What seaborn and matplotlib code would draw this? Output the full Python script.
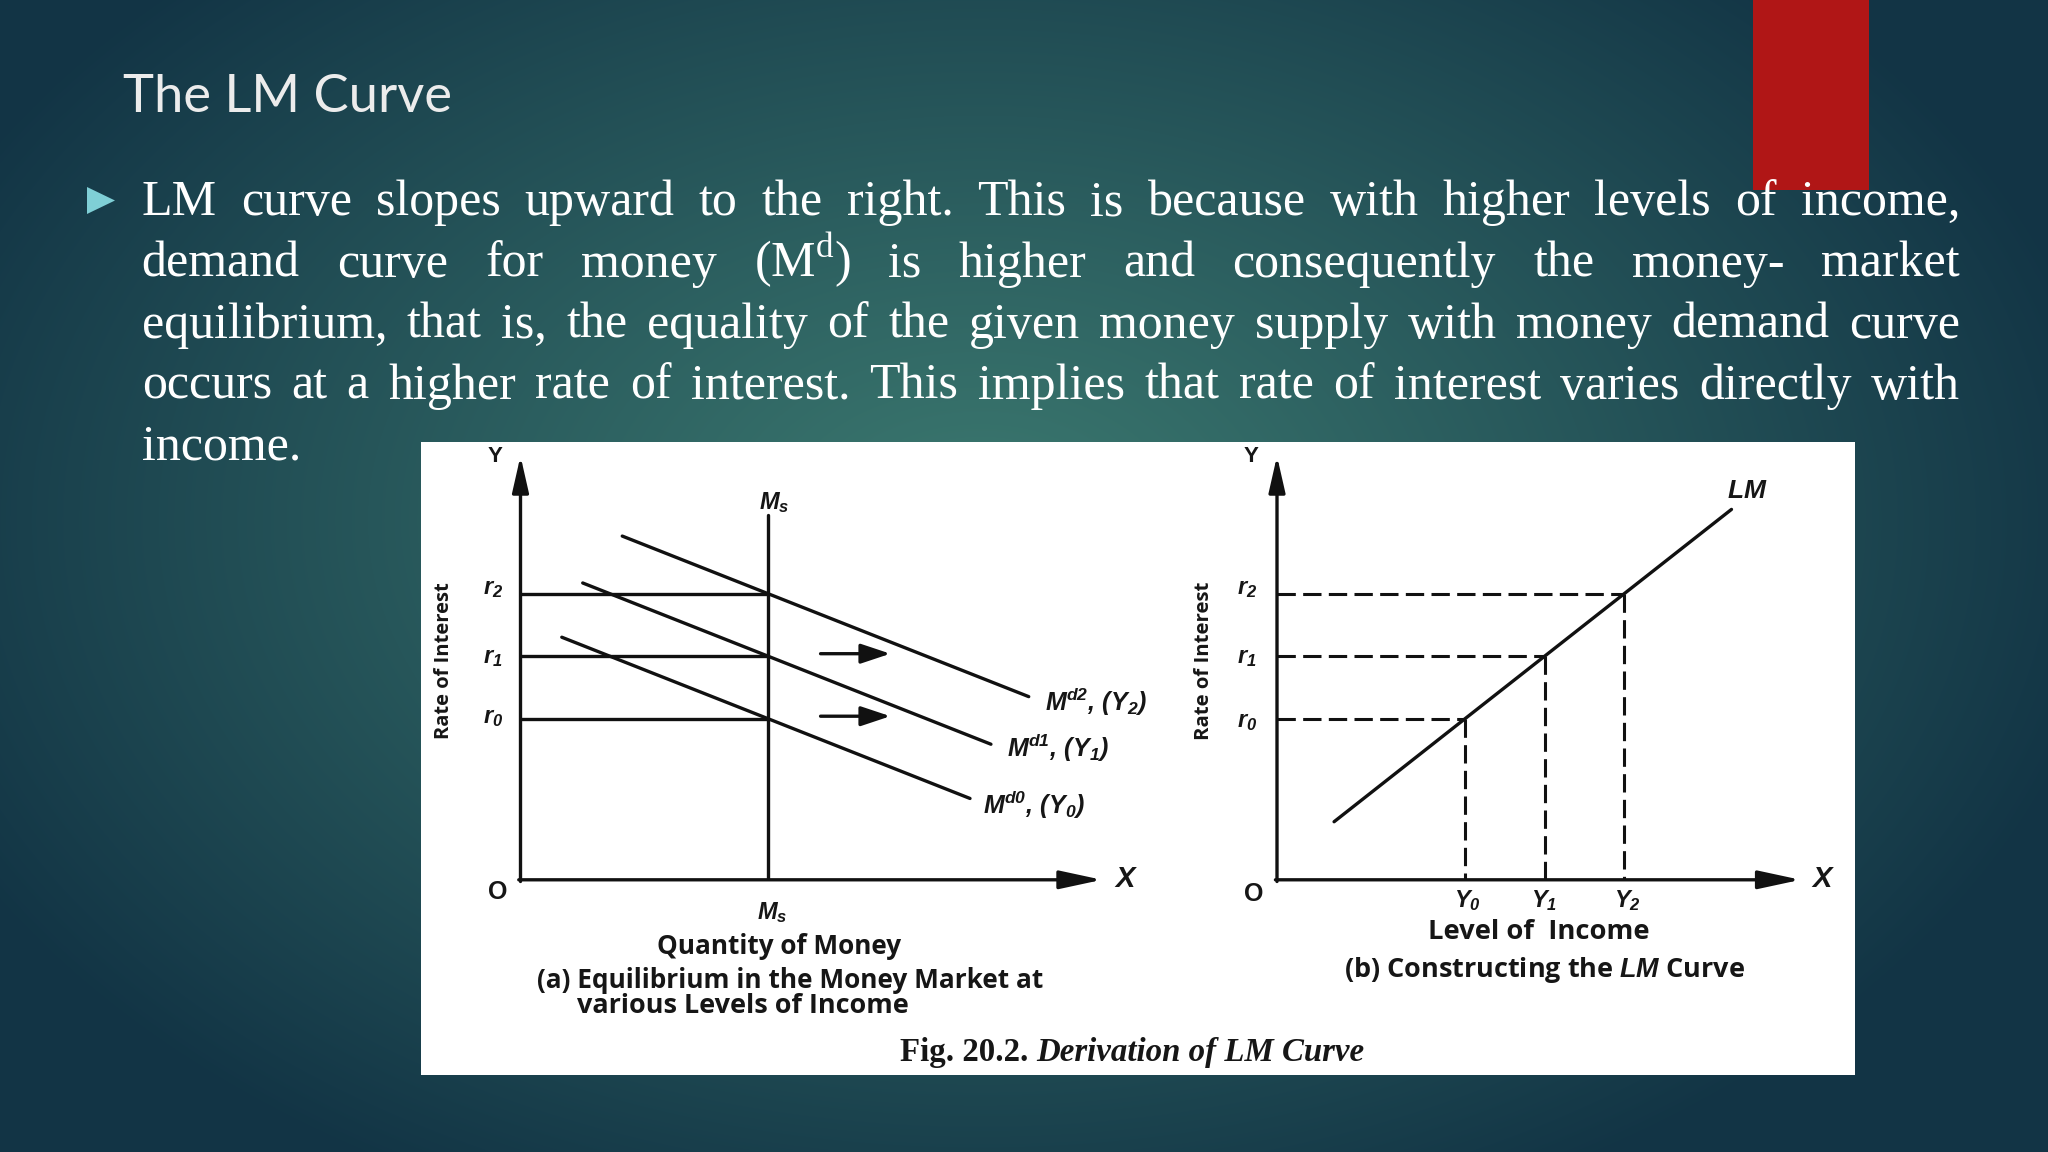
import numpy as np
import pandas as pd
import matplotlib
matplotlib.use("Agg")
import matplotlib.pyplot as plt
from matplotlib.patches import Rectangle, Polygon
import seaborn as sns

# ---------------- data ----------------
title = "The LM Curve"
body_lines = [
    "LM curve slopes upward to the right. This is because with higher levels of income,",
    "demand curve for money (M$^{\\mathrm{d}}$) is higher and consequently the money- market",
    "equilibrium, that is, the equality of the given money supply with money demand curve",
    "occurs at a higher rate of interest. This implies that rate of interest varies directly with",
    "income.",
]
rate_levels = [38.0, 52.75, 67.5]          # r0, r1, r2
rate_labels = ["r_0", "r_1", "r_2"]
money_supply = 42.6                        # Ms
ms_top = 86.0
md_slope = -0.542
md_start = [7.1, 10.7, 17.5]               # Md0, Md1, Md2
md_end = [77.3, 80.9, 87.4]
md_labels = [r"$\mathbf{M^{d0},\,(Y_0)}$", r"$\mathbf{M^{d1},\,(Y_1)}$", r"$\mathbf{M^{d2},\,(Y_2)}$"]
shift_from, shift_to = 51.6, 63.6
income_levels = [35.9, 51.1, 66.3]         # Y0, Y1, Y2
income_labels = ["Y_0", "Y_1", "Y_2"]
lm_income = [10.9, 35.9, 51.1, 66.3, 86.8]
lm_rate = [13.7, 38.0, 52.75, 67.5, 87.4]

# ---------------- setup ----------------
W, H = 2048, 1152
sns.set_theme(style="white")
plt.rcParams["font.family"] = ["Liberation Sans", "DejaVu Sans"]
plt.rcParams["mathtext.fontset"] = "custom"
plt.rcParams["mathtext.rm"] = "Liberation Serif"
plt.rcParams["mathtext.it"] = "Liberation Sans:italic"
plt.rcParams["mathtext.bf"] = "Liberation Sans:italic:bold"

fig = plt.figure(figsize=(W / 100, H / 100), dpi=100)
renderer = fig.canvas.get_renderer()


def fx(x):
    return x / W


def fy(y):
    return 1 - y / H


def T(x, y, s, **kw):
    return fig.text(fx(x), fy(y), s, **kw)


def fit(t, target, vertical=False):
    bb = t.get_window_extent(renderer)
    cur = bb.height if vertical else bb.width
    t.set_fontsize(t.get_fontsize() * target / cur)
    return t


# background gradient
bg = fig.add_axes([0, 0, 1, 1], zorder=0)
yy, xx = np.mgrid[0:H, 0:W]
d = np.sqrt(((xx - 980) / 1150.0) ** 2 + ((yy - 520) / 760.0) ** 2)
d = np.clip(d, 0, 1) ** 1.1
c_center = np.array([0x3b, 0x78, 0x6f]) / 255
c_edge = np.array([0x12, 0x34, 0x45]) / 255
img = c_center[None, None, :] * (1 - d[..., None]) + c_edge[None, None, :] * d[..., None]
bg.imshow(img, extent=[0, W, H, 0], aspect="auto")
bg.set_xlim(0, W)
bg.set_ylim(H, 0)
bg.axis("off")

# red bar
fig.patches.append(Rectangle((fx(1753), fy(190)), (1869 - 1753) / W, 190 / H,
                             transform=fig.transFigure, facecolor="#b01616",
                             edgecolor="none", zorder=1))
# bullet
fig.patches.append(Polygon([(fx(87), fy(187)), (fx(87), fy(214)), (fx(115), fy(200.5))],
                           closed=True, transform=fig.transFigure,
                           facecolor="#7fcfd6", edgecolor="none", zorder=2))

# title
ttl = T(123, 111.7, title, fontsize=44, color="#ececec",
        family=["Liberation Sans Narrow", "Lato", "DejaVu Sans"],
        va="baseline", ha="left", zorder=3)
fit(ttl, 329)

# body justified text
x0, x1 = 141.7, 1960.0
baselines = [215, 276.7, 338, 398.5, 460]
body_fs = 36
body_kw = dict(family=["Liberation Serif", "DejaVu Serif"], color="white", va="baseline",
               ha="left", zorder=3)


def measure(s, fs):
    t = T(0, 0, s, fontsize=fs, **body_kw)
    w = t.get_window_extent(renderer).width
    t.remove()
    return w


for _ in range(3):
    sp = measure("x x", body_fs) - measure("xx", body_fs)
    need = 0
    for ln in body_lines[:-1]:
        words = ln.split(" ")
        need = max(need, sum(measure(w, body_fs) for w in words) + 0.85 * sp * (len(words) - 1))
    if need > (x1 - x0):
        body_fs *= (x1 - x0) / need
    else:
        break

for i, ln in enumerate(body_lines):
    words = ln.split(" ")
    widths = [measure(w, body_fs) for w in words]
    if i < len(body_lines) - 1 and len(words) > 1:
        gap = ((x1 - x0) - sum(widths)) / (len(words) - 1)
    else:
        gap = measure("x x", body_fs) - measure("xx", body_fs)
    x = x0
    for w, wd in zip(words, widths):
        T(x, baselines[i], w, fontsize=body_fs, **body_kw)
        x += wd + gap

# white figure box
box = fig.add_axes([fx(421), fy(1075), (1855 - 421) / W, (1075 - 442) / H], zorder=4)
box.set_facecolor("white")
box.set_xticks([])
box.set_yticks([])
for s in box.spines.values():
    s.set_visible(False)

ink = "#111111"
lab_kw = dict(color="#161616", zorder=10)
cap_kw = dict(family=["Open Sans", "Liberation Sans"], fontweight="bold",
              ha="center", va="center", **lab_kw)

# ---------------- axes ----------------
axA = fig.add_axes([fx(520.5), fy(879.8), (1102 - 520.5) / W, (879.8 - 456) / H], zorder=5)
axB = fig.add_axes([fx(1277), fy(879.8), (1800.6 - 1277) / W, (879.8 - 456) / H], zorder=5)
for ax in (axA, axB):
    ax.set_xlim(0, 100)
    ax.set_ylim(0, 100)
    ax.axis("off")
    ax.patch.set_alpha(0)
    ax.annotate("", xy=(0, 100), xytext=(0, -0.4),
                arrowprops=dict(arrowstyle="-|>,head_length=1.1,head_width=0.25", lw=2.4,
                                color=ink, shrinkA=0, shrinkB=0, mutation_scale=20),
                annotation_clip=False)
    ax.annotate("", xy=(100, 0), xytext=(-0.3, 0),
                arrowprops=dict(arrowstyle="-|>,head_length=1.3,head_width=0.28", lw=2.4,
                                color=ink, shrinkA=0, shrinkB=0, mutation_scale=20),
                annotation_clip=False)

# ---------------- panel (a) ----------------
rows = []
for k, (a, b) in enumerate(zip(md_start, md_end)):
    for m in (a, b):
        rows.append({"curve": f"Md{k}", "money": m,
                     "rate": rate_levels[k] + md_slope * (m - money_supply)})
md_df = pd.DataFrame(rows)
sns.lineplot(data=md_df, x="money", y="rate", units="curve", estimator=None,
             color=ink, lw=2.4, ax=axA, legend=False)
axA.plot([money_supply, money_supply], [0, ms_top], color=ink, lw=2.4)
for r in rate_levels:
    axA.plot([0, money_supply], [r, r], color=ink, lw=2.4)
for r in rate_levels[:2]:
    axA.annotate("", xy=(shift_to, r + 0.6), xytext=(shift_from, r + 0.6),
                 arrowprops=dict(arrowstyle="-|>,head_length=0.9,head_width=0.3", lw=2.4,
                                 color=ink, shrinkA=0, shrinkB=0, mutation_scale=20))
axA.set_xlim(0, 100)
axA.set_ylim(0, 100)

T(495.5, 457, "Y", fontsize=16, fontweight="bold", ha="center", va="center", **lab_kw)
T(1126, 879, r"$\mathbf{X}$", fontsize=21, ha="center", va="center", **lab_kw)
T(498, 892, "O", fontsize=18, fontweight="bold", ha="center", va="center", **lab_kw)
for lbl, yv in zip(rate_labels, [717.5, 658, 589]):
    T(493, yv, f"$\\mathbf{{{lbl}}}$", fontsize=17, ha="center", va="center", **lab_kw)
T(774, 503, r"$\mathbf{M_s}$", fontsize=17, ha="center", va="center", **lab_kw)
T(772, 913, r"$\mathbf{M_s}$", fontsize=17, ha="center", va="center", **lab_kw)
fit(T(444, 661, "Rate of Interest", fontsize=15, rotation=90, **cap_kw), 157, vertical=True)
for lbl, (xv, yv) in zip(md_labels, [(983, 805), (1007, 748), (1045, 702)]):
    T(xv, yv, lbl, fontsize=18, ha="left", va="center", **lab_kw)
fit(T(779, 946, "Quantity of Money", fontsize=18, **cap_kw), 244)
fit(T(790, 981, "(a) Equilibrium in the Money Market at", fontsize=18, **cap_kw), 509)
fit(T(743, 1006, "various Levels of Income", fontsize=18, **cap_kw), 333)

# ---------------- panel (b) ----------------
lm_df = pd.DataFrame({"income": lm_income, "rate": lm_rate})
sns.lineplot(data=lm_df, x="income", y="rate", color=ink, lw=2.4, ax=axB,
             estimator=None, sort=False)
for yv, r in zip(income_levels, rate_levels):
    axB.plot([0, yv], [r, r], color=ink, lw=2.2, dashes=(6, 2.4))
    axB.plot([yv, yv], [r, 0], color=ink, lw=2.2, dashes=(6, 2.4))
axB.set_xlim(0, 100)
axB.set_ylim(0, 100)

T(1251.5, 457, "Y", fontsize=16, fontweight="bold", ha="center", va="center", **lab_kw)
T(1823, 879, r"$\mathbf{X}$", fontsize=21, ha="center", va="center", **lab_kw)
T(1254, 894, "O", fontsize=18, fontweight="bold", ha="center", va="center", **lab_kw)
for lbl, yv in zip(rate_labels, [721.5, 658, 589]):
    T(1247, yv, f"$\\mathbf{{{lbl}}}$", fontsize=17, ha="center", va="center", **lab_kw)
fit(T(1204, 660.5, "Rate of Interest", fontsize=15, rotation=90, **cap_kw), 159, vertical=True)
T(1747, 491, r"$\mathbf{LM}$", fontsize=19, ha="center", va="center", **lab_kw)
for lbl, xv in zip(income_labels, [1468, 1544, 1628]):
    T(xv, 901, f"$\\mathbf{{{lbl}}}$", fontsize=17, ha="center", va="center", **lab_kw)
fit(T(1539, 932, "Level of  Income", fontsize=18, **cap_kw), 222)
cb = T(1544, 970, r"(b) Constructing the $\mathbf{LM}$ Curve", fontsize=18, **cap_kw)
fit(cb, 401)

# figure caption
cap_fs = 22
f1 = T(900, 1061, "Fig. 20.2. ", fontsize=cap_fs, fontweight="bold",
       family=["Liberation Serif"], ha="left", va="baseline", **lab_kw)
f2 = T(900, 1061, "Derivation of LM Curve", fontsize=cap_fs, style="italic", fontweight="bold",
       family=["Liberation Serif"], ha="left", va="baseline", **lab_kw)
tot = f1.get_window_extent(renderer).width + f2.get_window_extent(renderer).width
cap_fs *= 463 / tot
f1.set_fontsize(cap_fs)
f2.set_fontsize(cap_fs)
w1 = f1.get_window_extent(renderer).width
f2.set_position((fx(900 + w1), fy(1061)))

fig.savefig("out.png", dpi=100)
